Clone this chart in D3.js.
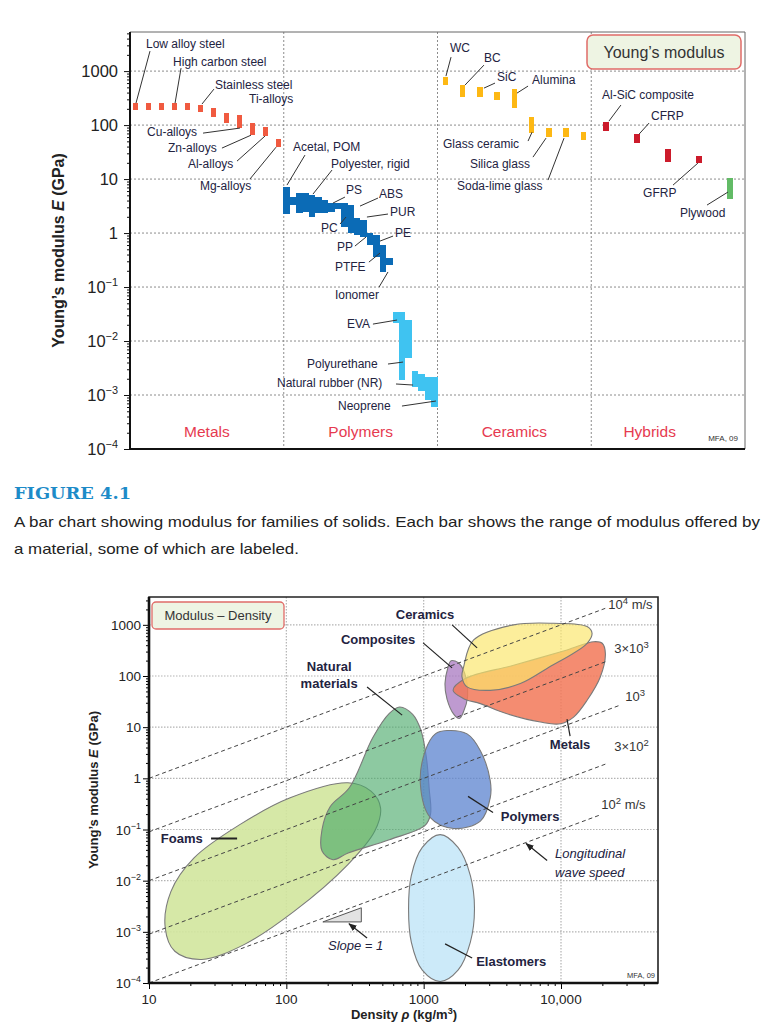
<!DOCTYPE html>
<html>
<head>
<meta charset="utf-8">
<script src="https://cdn.jsdelivr.net/npm/d3@7"></script>
<style>
  body { margin: 0; background: #fff; }
  svg { display: block; font-family: "Liberation Sans", Arial, sans-serif; }
</style>
</head>
<body>
<svg id="chart" width="768" height="1024"></svg>
<script>
// ---------- top chart: modulus range [low, high] in GPa, one pair per bar ----------
const families = ["Metals", "Polymers", "Ceramics", "Hybrids"];
const famLabelAt = [0.5, 1.5, 2.5, 3.38];
const metalBars = [[190,255],[190,255],[190,255],[190,255],[190,255],[175,235],[140,205],[109,167],[88,153],[65,109],[63,92],[39,55]];
const polymerBars = [[2.25,7.1],[3.3,4.6],[2.35,5.5],[2.45,5.5],[1.98,5.0],[2.35,4.6],[2.35,4.1],[2.45,3.6],[2.8,3.6],[1.29,3.6],[1.0,3.3],[0.92,1.9],[0.84,1.74],[0.6,1.0],[0.36,0.92],[0.19,0.6],[0.255,0.34]];
const elastomerBars = [[0.022,0.034],[0.0019,0.034],[0.0048,0.025],[0.0014,0.0028],[0.0012,0.0024],[0.00082,0.0022],[0.0006,0.0022]];
const ceramicBars = [[550,776],[330,550],[330,505],[290,410],[205,465],[71,140],[60,88],[60,88],[52,74]];
const hybridBars = [[77,114],[46,68],[20.6,36],[19.8,26.7],[4.26,10.4]];
const hybridKinds = ["comp","comp","comp","comp","wood"];
const topTicks = [1e3, 1e2, 10, 1, 1e-1, 1e-2, 1e-3, 1e-4];

// labels: text, x (family units), E at text, leader from [x,E] to [x,E]
const topNotes = [
  ["Low alloy steel", 0.104, 3162, 0.130, 2345, 0.039, 255],
  ["High carbon steel", 0.28, 1468, 0.332, 1136, 0.293, 255],
  ["Stainless steel", 0.553, 551, 0.546, 464, 0.468, 245],
  ["Ti-alloys", 0.774, 302],
  ["Cu-alloys", 0.111, 74, 0.475, 71, 0.715, 88],
  ["Zn-alloys", 0.247, 37.5, 0.598, 37.5, 0.787, 65],
  ["Al-alloys", 0.377, 19, 0.696, 21.5, 0.878, 62.6],
  ["Mg-alloys", 0.455, 7.4, 0.780, 10, 0.95, 39],
  ["Acetal, POM", 1.060, 39.1, 1.138, 27.8, 1.021, 7.74],
  ["Polyester, rigid", 1.307, 19, 1.314, 14.7, 1.190, 5.27],
  ["PS", 1.405, 6.25, 1.398, 4.64, 1.320, 3.59],
  ["ABS", 1.62, 5.27, 1.613, 4.45, 1.496, 3.16],
  ["PUR", 1.691, 2.45, 1.678, 2.25, 1.541, 1.98],
  ["PC", 1.242, 1.24, 1.366, 1.47, 1.405, 1.98],
  ["PE", 1.724, 1.0, 1.711, 0.88, 1.626, 0.71],
  ["PP", 1.346, 0.55, 1.463, 0.574, 1.535, 0.843],
  ["PTFE", 1.333, 0.235, 1.554, 0.29, 1.626, 0.426],
  ["Ionomer", 1.333, 0.0711, 1.620, 0.1, 1.678, 0.19],
  ["EVA", 1.411, 0.0206, 1.580, 0.0206, 1.737, 0.0245],
  ["Polyurethane", 1.151, 0.00375, 1.678, 0.00375, 1.776, 0.00408],
  ["Natural rubber (NR)", 0.956, 0.00167, 1.730, 0.0016, 1.841, 0.00153],
  ["Neoprene", 1.353, 0.000625, 1.769, 0.000625, 1.990, 0.000774],
  ["WC", 2.081, 2667, 2.088, 1815, 2.055, 808],
  ["BC", 2.302, 1738, 2.302, 1291, 2.179, 551],
  ["SiC", 2.387, 774, 2.374, 600, 2.302, 484],
  ["Alumina", 2.615, 681, 2.589, 528, 2.517, 391],
  ["Glass ceramic", 2.036, 44.5, 2.589, 50.6, 2.615, 74],
  ["Silica glass", 2.211, 19, 2.621, 25.5, 2.706, 57.4],
  ["Soda-lime glass", 2.127, 7.4, 2.719, 9.58, 2.823, 57.4],
  ["Al-SiC composite", 3.07, 359, 3.193, 235, 3.115, 118.5],
  ["CFRP", 3.389, 147, 3.376, 109, 3.311, 68],
  ["GFRP", 3.337, 5.5, 3.532, 7.74, 3.694, 19.8],
  ["Plywood", 3.577, 2.35, 3.753, 3.3, 3.889, 5.74]
];

// ---------- bottom chart: property envelopes, [log10 density, log10 E] ----------
const foamsEnv = [[2.448,-0.087],[2.616,-0.25],[2.686,-0.576],[2.644,-1.03],[2.448,-1.685],[2.056,-2.6],[1.692,-3.25],[1.384,-3.54],[1.188,-3.38],[1.118,-2.92],[1.16,-2.21],[1.328,-1.555],[1.664,-0.9],[2.028,-0.38]];
const naturalEnv = [[2.825,1.395],[2.92,1.25],[2.98,0.94],[3.02,0.4],[3.04,-0.2],[3.05,-0.7],[3.01,-0.92],[2.75,-1.2],[2.45,-1.46],[2.34,-1.59],[2.26,-1.42],[2.26,-1.0],[2.32,-0.55],[2.46,-0.18],[2.63,0.8],[2.75,1.27]];
const elastomerEnv = [[3.12,-1.1],[3.25,-1.35],[3.34,-1.9],[3.37,-2.55],[3.34,-3.2],[3.25,-3.75],[3.12,-3.97],[2.99,-3.75],[2.91,-3.2],[2.89,-2.55],[2.91,-1.9],[2.99,-1.35]];
const polymerEnv = [[3.17,0.934],[3.316,0.869],[3.413,0.541],[3.485,-0.05],[3.485,-0.377],[3.413,-0.836],[3.218,-0.98],[3.049,-0.77],[2.976,-0.115],[3.012,0.541],[3.085,0.869]];
const compositeEnv = [[3.2,2.3],[3.26,2.24],[3.31,1.95],[3.32,1.6],[3.29,1.3],[3.26,1.17],[3.22,1.25],[3.17,1.55],[3.155,1.85],[3.175,2.15]];
const metalEnv = [[3.214,1.72],[3.303,1.95],[3.655,2.21],[4.044,2.51],[4.238,2.67],[4.3,2.64],[4.323,2.44],[4.286,1.98],[4.19,1.525],[4.092,1.197],[3.995,1.066],[3.85,1.1],[3.607,1.262],[3.413,1.46],[3.291,1.557]];
const ceramicEnv = [[3.291,2.18],[3.364,2.705],[3.655,3.0],[3.947,3.03],[4.19,2.967],[4.226,2.836],[4.19,2.64],[3.898,2.148],[3.704,1.852],[3.485,1.72],[3.316,1.787],[3.279,1.984]];

const waveSpeeds = [1e4, 3e3, 1e3, 3e2, 1e2];      // m/s
const waveEnds = [21000, 21700, 27000, 21700, 19000]; // density where each guide stops
const waveLabels = [["10","4"," m/s"],["3\u00d710","3",""],["10","3",""],["3\u00d710","2",""],["10","2"," m/s"]];
const waveLabelOff = [[3,-4],[7,-13],[5,-9],[7,-17],[2,-11]];
const rhoTicks = [10, 100, 1000, 10000];
const eTicks = [1e3, 1e2, 10, 1, 1e-1, 1e-2, 1e-3, 1e-4];

const mapNotes = [
  {t:["Ceramics"], at:[1023,1570], a:"middle", lead:[[1610,1000],[2449,354]]},
  {t:["Composites"], at:[466,508], a:"middle", lead:[[991,444],[1610,144]]},
  {t:["Natural","materials"], at:[205,150], a:"middle", lead:[[387,61],[697,17.2]]},
  {t:["Metals"], at:[11640,4.64], a:"middle", lead:[[11640,6.66],[11060,14.4]]},
  {t:["Polymers"], at:[5957,0.18], a:"middle", lead:[[3199,0.215],[2104,0.444]]},
  {t:["Foams"], at:[12.2,0.0667], a:"start", lead:[[28.3,0.0667],[43.8,0.0667]], thick:true},
  {t:["Elastomers"], at:[2410,2.58e-4], a:"start", lead:[[2254,3.09e-4],[1432,5.82e-4]]}
];
const slopeTri = [[2.266,-2.806],[2.546,-2.53],[2.546,-2.806]];

const svg = d3.select("#chart");
const ink = "#23233f";

svg.append("defs").append("marker")
  .attr("id", "arr").attr("viewBox", "0 0 10 10").attr("refX", 9).attr("refY", 5)
  .attr("markerWidth", 7).attr("markerHeight", 7).attr("orient", "auto-start-reverse")
  .append("path").attr("d", "M0,1 L10,5 L0,9 z").attr("fill", "#222");

function powLabel(sel, v, fs, comma) {
  const e = Math.round(Math.log10(v));
  if (e >= 0) sel.text(comma ? d3.format(",")(v) : String(v));
  else {
    sel.append("tspan").text("10");
    sel.append("tspan").attr("dy", -fs * 0.42).attr("font-size", fs * 0.66).text("\u2212" + (-e));
  }
}
function minorTicks(lo, hi) {
  const out = [];
  for (let e = Math.floor(Math.log10(lo)); e <= Math.ceil(Math.log10(hi)); e++)
    for (let k = 2; k <= 9; k++) { const v = k * Math.pow(10, e); if (v > lo && v < hi) out.push(v); }
  return out;
}

// =================== TOP CHART ===================
const m1 = {left: 130, right: 745, top: 32, bottom: 449};
const xFam = d3.scaleLinear().domain([0, 4]).range([m1.left, m1.right]);
const yTop = d3.scaleLog().domain([1e-4, 5300]).range([m1.bottom, m1.top]);
const g1 = svg.append("g");

g1.selectAll("line.hg").data(topTicks.slice(0, -1)).join("line").attr("class", "hg")
  .attr("x1", m1.left).attr("x2", m1.right).attr("y1", d => yTop(d)).attr("y2", d => yTop(d))
  .attr("stroke", "#8c8c8c").attr("stroke-dasharray", "2,2");
g1.selectAll("line.vg").data([1, 2, 3]).join("line").attr("class", "vg")
  .attr("x1", d => xFam(d)).attr("x2", d => xFam(d)).attr("y1", m1.top).attr("y2", m1.bottom)
  .attr("stroke", "#8c8c8c").attr("stroke-dasharray", "2,2");
g1.append("path").attr("d", `M${m1.left},${m1.top}H${m1.right}V${m1.bottom}`)
  .attr("fill", "none").attr("stroke", "#666").attr("stroke-width", 1);

function drawBars(data, band, color) {
  g1.append("g").selectAll("rect").data(data).join("rect")
    .attr("x", (d, i) => band(i)).attr("width", band.bandwidth())
    .attr("y", d => yTop(d[1])).attr("height", d => yTop(d[0]) - yTop(d[1]))
    .attr("fill", (d, i) => typeof color === "function" ? color(i) : color)
    .attr("shape-rendering", "crispEdges");
}
const bandM = d3.scaleBand().domain(d3.range(metalBars.length)).range([xFam(0), xFam(1)]).paddingInner(0.577).paddingOuter(0.2);
const polyAll = polymerBars.concat(elastomerBars);
const bandP = d3.scaleBand().domain(d3.range(polyAll.length)).range([xFam(1) - 0.5, xFam(2)]);
const bandC = d3.scaleBand().domain(d3.range(ceramicBars.length)).range([xFam(2), xFam(3)]).paddingInner(0.68).paddingOuter(0.3);
const bandH = d3.scaleBand().domain(d3.range(hybridBars.length)).range([xFam(3), xFam(4)]).paddingInner(0.8).paddingOuter(0.39);
drawBars(metalBars, bandM, "#f05a40");
drawBars(polyAll, bandP, i => i < polymerBars.length ? "#0b6bb6" : "#3fc3f1");
drawBars(ceramicBars, bandC, "#fdb814");
drawBars(hybridBars, bandH, i => hybridKinds[i] === "wood" ? "#62bb66" : "#cc1b2b");

// leaders and labels
const notes1 = g1.append("g");
topNotes.filter(d => d.length > 3).forEach(d => {
  notes1.append("line")
    .attr("x1", xFam(d[3])).attr("y1", yTop(d[4])).attr("x2", xFam(d[5])).attr("y2", yTop(d[6]))
    .attr("stroke", "#333").attr("stroke-width", 1);
});
notes1.selectAll("text").data(topNotes).join("text")
  .attr("x", d => xFam(d[1])).attr("y", d => yTop(d[2]) + 4.3)
  .attr("font-size", 12).attr("fill", ink).text(d => d[0]);

// axis
const axL = g1.append("g").attr("transform", `translate(${m1.left},0)`);
axL.call(d3.axisLeft(yTop).tickValues(minorTicks(1e-4, 5300)).tickSize(3).tickFormat(""));
axL.append("g").call(d3.axisLeft(yTop).tickValues(topTicks).tickSize(6).tickFormat(""));
axL.selectAll(".domain").remove();
axL.selectAll("line").attr("stroke", "#111");
g1.append("path").attr("d", `M${m1.left},${m1.top}V${m1.bottom}H${m1.right}`)
  .attr("fill", "none").attr("stroke", "#111").attr("stroke-width", 2);
g1.selectAll("text.yt").data(topTicks).join("text").attr("class", "yt")
  .attr("x", 118).attr("y", d => yTop(d) + 6).attr("text-anchor", "end")
  .attr("font-size", 16.5).attr("fill", "#222")
  .each(function (d) { powLabel(d3.select(this), d, 16.5, false); });

g1.selectAll("text.fam").data(families).join("text").attr("class", "fam")
  .attr("x", (d, i) => xFam(famLabelAt[i])).attr("y", yTop(2.1e-4) + 5.5)
  .attr("text-anchor", "middle").attr("font-size", 15.5).attr("fill", "#e63a50").text(d => d);
g1.append("text").attr("x", 738).attr("y", 441).attr("text-anchor", "end")
  .attr("font-size", 8).attr("fill", "#333").text("MFA, 09");

const yl1 = g1.append("text").attr("transform", `translate(64,${(m1.top + m1.bottom) / 2 + 10}) rotate(-90)`)
  .attr("text-anchor", "middle").attr("font-size", 16).attr("font-weight", "bold").attr("fill", "#222");
yl1.append("tspan").text("Young\u2019s modulus ");
yl1.append("tspan").attr("font-style", "italic").text("E");
yl1.append("tspan").text(" (GPa)");

g1.append("rect").attr("x", 587).attr("y", 35).attr("width", 154).attr("height", 34).attr("rx", 6)
  .attr("fill", "#eef4e3").attr("stroke", "#e06b68").attr("stroke-width", 1.5);
g1.append("text").attr("x", 664).attr("y", 57.5).attr("text-anchor", "middle")
  .attr("font-size", 16).attr("fill", "#333").text("Young\u2019s modulus");

// caption
svg.append("text").attr("x", 14).attr("y", 499).attr("font-family", "DejaVu Serif, serif")
  .attr("font-weight", "bold").attr("font-size", 16).attr("fill", "#1d8bc8")
  .attr("textLength", 117).attr("lengthAdjust", "spacingAndGlyphs").text("FIGURE 4.1");
svg.append("text").attr("x", 14).attr("y", 527).attr("font-size", 15).attr("fill", "#222")
  .attr("textLength", 746).attr("lengthAdjust", "spacingAndGlyphs")
  .text("A bar chart showing modulus for families of solids. Each bar shows the range of modulus offered by");
svg.append("text").attr("x", 14).attr("y", 554).attr("font-size", 15).attr("fill", "#222")
  .attr("textLength", 285).attr("lengthAdjust", "spacingAndGlyphs")
  .text("a material, some of which are labeled.");

// =================== BOTTOM CHART ===================
const m2 = {left: 149, right: 658, top: 597, bottom: 983};
const xRho = d3.scaleLog().domain([10, 50000]).range([m2.left, 657]);
const yE = d3.scaleLog().domain([1e-4, 3500]).range([m2.bottom, m2.top]);
const g2 = svg.append("g");
svg.select("defs").append("clipPath").attr("id", "clip2").append("rect")
  .attr("x", m2.left).attr("y", m2.top).attr("width", m2.right - m2.left).attr("height", m2.bottom - m2.top);

g2.selectAll("line.hg").data(eTicks.slice(0, -1)).join("line").attr("class", "hg")
  .attr("x1", m2.left).attr("x2", m2.right).attr("y1", d => yE(d)).attr("y2", d => yE(d))
  .attr("stroke", "#b3b3b3").attr("stroke-width", 1.2).attr("stroke-dasharray", "1.5,1.5");
g2.selectAll("line.vg").data(rhoTicks.slice(1)).join("line").attr("class", "vg")
  .attr("x1", d => xRho(d)).attr("x2", d => xRho(d)).attr("y1", m2.top).attr("y2", m2.bottom)
  .attr("stroke", "#b3b3b3").attr("stroke-width", 1.2).attr("stroke-dasharray", "1.5,1.5");

const env = d3.line().x(d => xRho(Math.pow(10, d[0]))).y(d => yE(Math.pow(10, d[1])))
  .curve(d3.curveCatmullRomClosed.alpha(0.5));
const blobs = g2.append("g").attr("clip-path", "url(#clip2)");
[
  [foamsEnv, "#d2e59d", 0.9],
  [naturalEnv, "#47a867", 0.62],
  [elastomerEnv, "#c6e8f8", 0.9],
  [polymerEnv, "#5b83cf", 0.75],
  [compositeEnv, "#a878c0", 0.75],
  [metalEnv, "#f27858", 0.85],
  [ceramicEnv, "#fbe66c", 0.68]
].forEach(([pts, c, o]) => {
  blobs.append("path").attr("d", env(pts)).attr("fill", c).attr("fill-opacity", o)
    .attr("stroke", "#7a7a7a").attr("stroke-width", 1.1);
});

// longitudinal wave speed guides, E = rho * v^2
const guides = g2.append("g");
waveSpeeds.forEach((v, i) => {
  const e0 = 10 * v * v / 1e9, e1 = waveEnds[i] * v * v / 1e9;
  guides.append("line").attr("x1", xRho(10)).attr("y1", yE(e0)).attr("x2", xRho(waveEnds[i])).attr("y2", yE(e1))
    .attr("stroke", "#444").attr("stroke-width", 1).attr("stroke-dasharray", "4,3");
  const t = guides.append("text").attr("x", xRho(waveEnds[i]) + waveLabelOff[i][0])
    .attr("y", yE(e1) + waveLabelOff[i][1] + 5).attr("font-size", 13).attr("fill", "#333");
  t.append("tspan").text(waveLabels[i][0]);
  t.append("tspan").attr("dy", -5).attr("font-size", 9.5).text(waveLabels[i][1]);
  if (waveLabels[i][2]) t.append("tspan").attr("dy", 5).text(waveLabels[i][2]);
});

// slope triangle
g2.append("path").attr("d", d3.line().x(d => xRho(Math.pow(10, d[0]))).y(d => yE(Math.pow(10, d[1]))).curve(d3.curveLinearClosed)(slopeTri))
  .attr("fill", "#e3e3e3").attr("stroke", "#555").attr("stroke-width", 1);

// labels
const n2 = g2.append("g");
mapNotes.forEach(n => {
  n2.append("line").attr("x1", xRho(n.lead[0][0])).attr("y1", yE(n.lead[0][1]))
    .attr("x2", xRho(n.lead[1][0])).attr("y2", yE(n.lead[1][1]))
    .attr("stroke", "#222").attr("stroke-width", n.thick ? 2 : 1.2);
  n.t.forEach((s, k) => {
    n2.append("text").attr("x", xRho(n.at[0])).attr("y", yE(n.at[1]) + 4.5 + k * 17)
      .attr("text-anchor", n.a).attr("font-size", 13).attr("font-weight", "bold").attr("fill", ink).text(s);
  });
});
n2.append("line").attr("x1", xRho(7925)).attr("y1", yE(0.0247)).attr("x2", xRho(5572)).attr("y2", yE(0.0531))
  .attr("stroke", "#222").attr("stroke-width", 1.2).attr("marker-end", "url(#arr)");
n2.append("text").attr("x", xRho(9060)).attr("y", yE(0.0339) + 4.5).attr("font-size", 13)
  .attr("font-style", "italic").attr("fill", ink).text("Longitudinal");
n2.append("text").attr("x", xRho(9060)).attr("y", yE(0.01436) + 4.5).attr("font-size", 13)
  .attr("font-style", "italic").attr("fill", ink).text("wave speed");
n2.append("line").attr("x1", xRho(387)).attr("y1", yE(7.6e-4)).attr("x2", xRho(286)).attr("y2", yE(1.44e-3))
  .attr("stroke", "#222").attr("stroke-width", 1.2).attr("marker-end", "url(#arr)");
n2.append("text").attr("x", xRho(201)).attr("y", yE(5.3e-4) + 4.5).attr("font-size", 13)
  .attr("font-style", "italic").attr("fill", ink).text("Slope = 1");
n2.append("text").attr("x", 655).attr("y", 978).attr("text-anchor", "end")
  .attr("font-size", 7.5).attr("fill", "#333").text("MFA, 09");

// legend box
g2.append("rect").attr("x", 152).attr("y", 602).attr("width", 132).attr("height", 27).attr("rx", 4)
  .attr("fill", "#eef4e3").attr("stroke", "#e06b68").attr("stroke-width", 1.3);
g2.append("text").attr("x", 218).attr("y", 620).attr("text-anchor", "middle")
  .attr("font-size", 13).attr("fill", "#333").text("Modulus \u2013 Density");

// axes
const axY2 = g2.append("g").attr("transform", `translate(${m2.left},0)`);
axY2.call(d3.axisLeft(yE).tickValues(minorTicks(1e-4, 3500)).tickSize(3).tickFormat(""));
axY2.append("g").call(d3.axisLeft(yE).tickValues(eTicks).tickSize(6).tickFormat(""));
const axX2 = g2.append("g").attr("transform", `translate(0,${m2.bottom})`);
axX2.call(d3.axisBottom(xRho).tickValues(minorTicks(10, 50000)).tickSize(3).tickFormat(""));
axX2.append("g").call(d3.axisBottom(xRho).tickValues(rhoTicks).tickSize(6).tickFormat(""));
g2.selectAll(".domain").remove();
g2.append("path").attr("d", `M${m2.left},${m2.bottom}V${m2.top}H${m2.right}V${m2.bottom}Z`)
  .attr("fill", "none").attr("stroke", "#222").attr("stroke-width", 1.6);
g2.append("path").attr("d", `M${m2.left},${m2.top}V${m2.bottom}H${m2.right}`)
  .attr("fill", "none").attr("stroke", "#111").attr("stroke-width", 2.6);

g2.selectAll("text.yt").data(eTicks).join("text").attr("class", "yt")
  .attr("x", 141).attr("y", d => yE(d) + 5).attr("text-anchor", "end")
  .attr("font-size", 13.5).attr("fill", "#222")
  .each(function (d) { powLabel(d3.select(this), d, 13.5, false); });
g2.selectAll("text.xt").data(rhoTicks).join("text").attr("class", "xt")
  .attr("x", d => xRho(d)).attr("y", 1004).attr("text-anchor", "middle")
  .attr("font-size", 13.5).attr("fill", "#222").text(d => d3.format(",")(d).replace(/^1,000$/, "1000"));

const yl2 = g2.append("text").attr("transform", `translate(98,790) rotate(-90)`)
  .attr("text-anchor", "middle").attr("font-size", 13).attr("font-weight", "bold").attr("fill", "#222");
yl2.append("tspan").text("Young\u2019s modulus ");
yl2.append("tspan").attr("font-style", "italic").text("E");
yl2.append("tspan").text(" (GPa)");
const xl2 = g2.append("text").attr("x", 404).attr("y", 1019).attr("text-anchor", "middle")
  .attr("font-size", 13).attr("font-weight", "bold").attr("fill", "#222");
xl2.append("tspan").text("Density ");
xl2.append("tspan").attr("font-style", "italic").text("\u03c1");
xl2.append("tspan").text(" (kg/m");
xl2.append("tspan").attr("dy", -5).attr("font-size", 9).text("3");
xl2.append("tspan").attr("dy", 5).text(")");
</script>
</body>
</html>
